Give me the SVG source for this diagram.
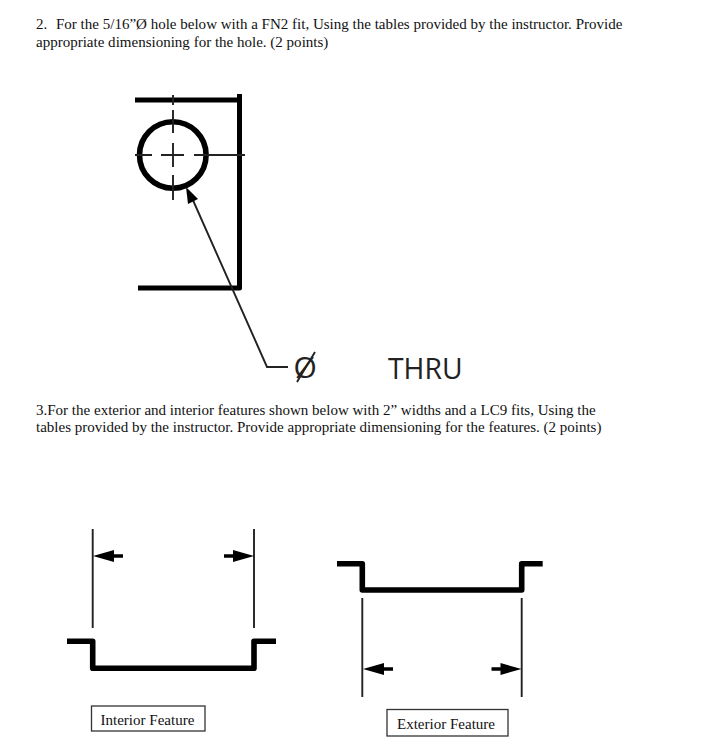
<svg xmlns="http://www.w3.org/2000/svg" width="708" height="747" viewBox="0 0 708 747">
<style>
.t{font-family:"Liberation Serif","Times New Roman",serif;font-size:15.03px;fill:#111}
.s{font-family:"Open Sans","Noto Sans",sans-serif;fill:#222}
.h{fill:none;stroke:#000;stroke-width:5;stroke-linejoin:round}
.p{fill:none;stroke:#000;stroke-width:5.6;stroke-linejoin:round}
.m{fill:none;stroke:#222;stroke-width:1.9}
.b{fill:#fff;stroke:#333;stroke-width:1.3}
</style>
<defs><g id="al"><path d="M0 0L21 -6V-1.7H30V1.700H21V6Z" fill="#000"/></g></defs>
<rect width="708" height="747" fill="#fff"/>
<g id="q2"><text class="t" x="36" y="29">2.<tspan x="56">For the 5/16”Ø hole below with a FN2 fit, Using the tables provided by the instructor. Provide</tspan></text>
<text class="t" x="36" y="47">appropriate dimensioning for the hole. (2 points)</text></g>
<g id="part-hole">
<path class="h" d="M135 100H239.500M239.500 94V288H138"/>
<circle cx="172.800" cy="155" r="33.300" fill="none" stroke="#000" stroke-width="5.600"/>
<path class="m" d="M173 95V105M173 110V133M173 143V167M173 175V200M135 155H152M161 155H184M194 155H245"/>
</g>
<g id="connectors">
<path class="m" d="M192 198L267 367H288"/>
<path d="M186 187L198 199L188 204Z" fill="#000"/>
<path class="m" d="M92.700 529V628M254 529V628"/>
<use href="#al" transform="translate(93 556)"/>
<use href="#al" transform="translate(254 556) scale(-1 1)"/>
<path class="m" d="M362.300 598V697M521.700 598V697"/>
<use href="#al" transform="translate(363 669)"/>
<use href="#al" transform="translate(521.500 669) scale(-1 1)"/>
</g>
<g id="label-thru"><text class="s" x="293.500" y="378" font-size="30">Ø</text>
<path class="m" d="M297 382L315 352"/>
<text class="s" x="388" y="379" font-size="28.300">THRU</text></g>
<g id="q3"><text class="t" x="36" y="415">3.For the exterior and interior features shown below with 2” widths and a LC9 fits, Using the</text>
<text class="t" x="36" y="432">tables provided by the instructor. Provide appropriate dimensioning for the features. (2 points)</text></g>
<g id="interior"><path class="p" d="M67 641.300H92.700V668.300H254V641.300H276"/>
<rect class="b" x="91.500" y="706" width="113.500" height="25"/><text class="t" x="100.500" y="725">Interior Feature</text></g>
<g id="exterior"><path class="p" d="M337 563.700H362.300V590H521.700V563.700H542.700"/>
<rect class="b" x="387" y="709.500" width="121" height="26.500"/><text class="t" x="397" y="729">Exterior Feature</text></g>
</svg>
